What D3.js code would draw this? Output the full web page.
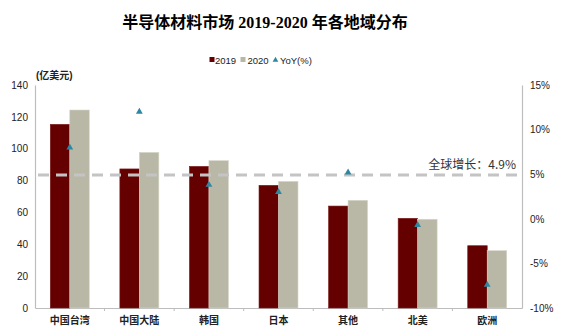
<!DOCTYPE html>
<html>
<head>
<meta charset="utf-8">
<script src="https://cdn.jsdelivr.net/npm/d3@7/dist/d3.min.js"></script>
<style>
  html, body { margin: 0; padding: 0; background: #fff; }
  svg { display: block; }
  text { font-family: "Liberation Sans", Arial, "Noto Sans CJK SC", sans-serif; }
</style>
</head>
<body>
<svg id="chart" width="562" height="335"></svg>
<script>
// Semiconductor materials market by region, 2019 vs 2020 (100M USD) and YoY growth (%)
const regions = ["中国台湾", "中国大陆", "韩国", "日本", "其他", "北美", "欧洲"];
const sales2019 = [115.3, 87.3, 88.9, 77.0, 64.0, 56.3, 39.1];
const sales2020 = [124.3, 97.7, 92.5, 79.5, 67.6, 55.7, 36.0];
const yoy = [8.0, 12.0, 3.8, 3.0, 5.2, -0.7, -7.4];
const globalGrowth = 4.9;
const leftTicks = [0, 20, 40, 60, 80, 100, 120, 140];
const rightTicks = [-10, -5, 0, 5, 10, 15];

const svg = d3.select("#chart");
const m = { left: 35, right: 522, top: 85, bottom: 308 };

const x = d3.scaleBand().domain(regions).range([m.left, m.right]).paddingInner(0).paddingOuter(0);
const xSeries = d3.scaleBand().domain(["2019", "2020"]).range([0, x.bandwidth() * 0.56]);
const yL = d3.scaleLinear().domain([0, 140]).range([m.bottom, m.top]);
const yR = d3.scaleLinear().domain([-10, 15]).range([m.bottom, m.top]);

const colors = { "2019": "#650000", "2020": "#B9B8A7", yoy: "#2E87A0" };
const off = (x.bandwidth() - x.bandwidth() * 0.56) / 2;

// Title
svg.append("text")
  .attr("x", 265).attr("y", 28)
  .attr("text-anchor", "middle")
  .attr("font-size", 16).attr("font-weight", "bold")
  .attr("fill", "#000")
  .style("font-family", "\"Liberation Serif\", \"Noto Sans CJK SC\", serif")
  .text("半导体材料市场 2019-2020 年各地域分布");

// Legend
const legend = svg.append("g").attr("font-size", 9.5).attr("fill", "#222");
legend.append("rect").attr("x", 209.5).attr("y", 57).attr("width", 5).attr("height", 5).attr("fill", colors["2019"]);
legend.append("text").attr("x", 215).attr("y", 63.5).text("2019");
legend.append("rect").attr("x", 240.5).attr("y", 57).attr("width", 5).attr("height", 5).attr("fill", colors["2020"]);
legend.append("text").attr("x", 247.5).attr("y", 63.5).text("2020");
legend.append("path")
  .attr("d", d3.symbol(d3.symbolTriangle, 14)())
  .attr("transform", "translate(275.5,60)")
  .attr("fill", colors.yoy);
legend.append("text").attr("x", 280).attr("y", 63.5).text("YoY(%)");

// Unit label
svg.append("text").attr("x", 36).attr("y", 79)
  .attr("font-size", 10).attr("font-weight", "bold").attr("fill", "#222")
  .text("(亿美元)");

// Axes
const axisColor = "#BDBDBD";
const gL = svg.append("g").attr("transform", `translate(${m.left},0)`)
  .call(d3.axisLeft(yL).tickValues(leftTicks).tickSize(0).tickPadding(7));
const gR = svg.append("g").attr("transform", `translate(${m.right},0)`)
  .call(d3.axisRight(yR).tickValues(rightTicks).tickSize(0).tickPadding(8).tickFormat(d => d + "%"));
[gL, gR].forEach(g => {
  g.select(".domain").attr("stroke", axisColor).attr("stroke-width", 1.2);
  g.selectAll("text").attr("font-size", 10).attr("fill", "#222").style("font-family", "\"Liberation Sans\", Arial, sans-serif");
});

const gX = svg.append("g").attr("transform", `translate(0,${m.bottom})`)
  .call(d3.axisBottom(x).tickSize(0).tickPadding(9));
gX.select(".domain").attr("stroke", axisColor).attr("stroke-width", 1.2);
gX.selectAll("text").attr("font-size", 10).attr("font-weight", "bold").attr("fill", "#222")
  .style("font-family", "\"Noto Sans CJK SC\", sans-serif");
// category separators on the x axis
gX.selectAll(".sep").data(regions.slice(1)).enter().append("line")
  .attr("x1", d => x(d)).attr("x2", d => x(d))
  .attr("y1", 0).attr("y2", 3)
  .attr("stroke", axisColor);

// Bars
const series = [
  { key: "2019", values: sales2019 },
  { key: "2020", values: sales2020 }
];
series.forEach(s => {
  svg.append("g").selectAll("rect").data(regions).enter().append("rect")
    .attr("x", (d) => x(d) + off + xSeries(s.key))
    .attr("y", (d, i) => yL(s.values[i]))
    .attr("width", xSeries.bandwidth())
    .attr("height", (d, i) => yL(0) - yL(s.values[i]))
    .attr("fill", colors[s.key])
    .attr("stroke", s.key === "2020" ? "#D6D5C8" : "#7A1A1A")
    .attr("stroke-width", 0.6);
});

// Global growth reference line
svg.append("line")
  .attr("x1", m.left + 3).attr("x2", m.right)
  .attr("y1", yR(globalGrowth)).attr("y2", yR(globalGrowth))
  .attr("stroke", "#C4C4C4").attr("stroke-width", 3)
  .attr("stroke-dasharray", "11,7");
svg.append("text")
  .attr("x", 516).attr("y", yR(globalGrowth) - 6)
  .attr("text-anchor", "end")
  .attr("font-size", 12).attr("fill", "#333")
  .style("font-family", "\"Noto Sans CJK SC\", sans-serif")
  .text("全球增长：" + globalGrowth + "%");

// YoY markers
svg.append("g").selectAll("path").data(regions).enter().append("path")
  .attr("d", d3.symbol(d3.symbolTriangle, 20)())
  .attr("transform", (d, i) => `translate(${x(d) + x.bandwidth() / 2},${yR(yoy[i])})`)
  .attr("fill", colors.yoy);
</script>
</body>
</html>
